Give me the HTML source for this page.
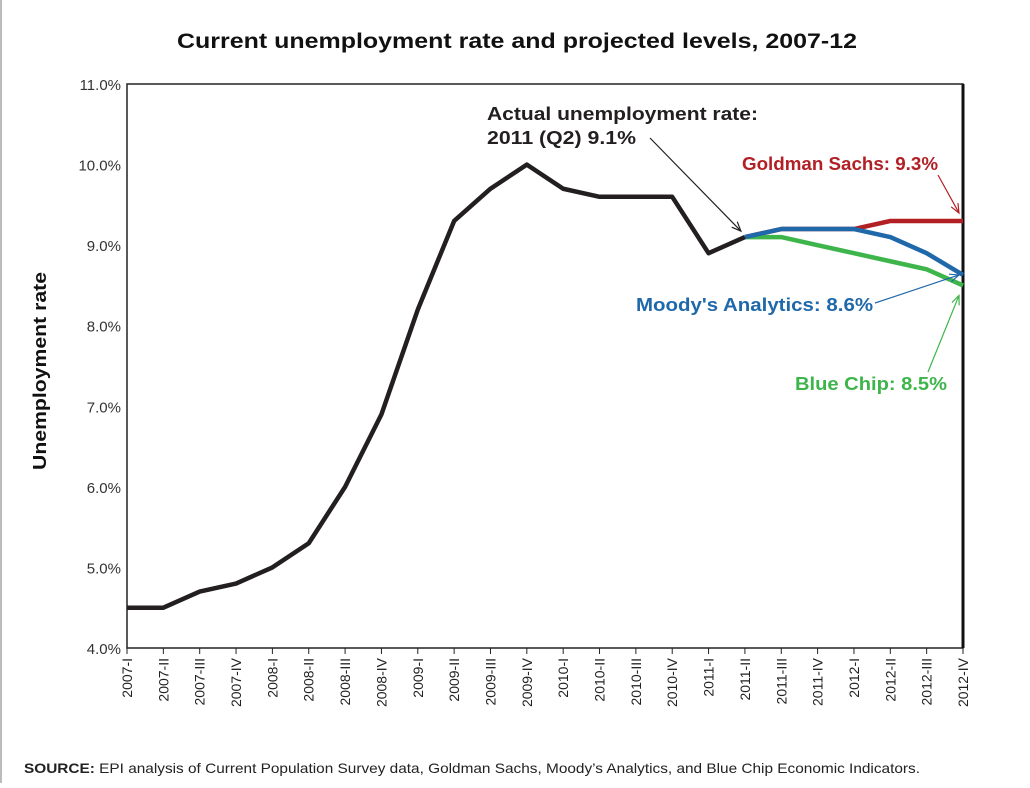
<!DOCTYPE html>
<html><head><meta charset="utf-8"><style>
body{margin:0;background:#fff;width:1030px;height:783px;overflow:hidden;font-family:"Liberation Sans",sans-serif}
svg text{font-family:"Liberation Sans",sans-serif}
</style></head><body>
<svg id="c" width="1030" height="783">
<line x1="1" y1="0" x2="1" y2="783" stroke="#bbb" stroke-width="2"/>
<text x="177" y="48" textLength="680" lengthAdjust="spacingAndGlyphs" font-size="21" font-weight="bold" fill="#111">Current unemployment rate and projected levels, 2007-12</text>
<text transform="translate(46,470) rotate(-90)" textLength="198" lengthAdjust="spacingAndGlyphs" font-size="18" font-weight="bold" fill="#111">Unemployment rate</text>
<text x="24" y="773" textLength="896" lengthAdjust="spacingAndGlyphs" font-size="14" fill="#222"><tspan font-weight="bold">SOURCE:</tspan> EPI analysis of Current Population Survey data, Goldman Sachs, Moody’s Analytics, and Blue Chip Economic Indicators.</text>
<g id="axes"></g><g id="marks"></g>
</svg>
<script>
const categories=["2007-I","2007-II","2007-III","2007-IV","2008-I","2008-II","2008-III","2008-IV","2009-I","2009-II","2009-III","2009-IV","2010-I","2010-II","2010-III","2010-IV","2011-I","2011-II","2011-III","2011-IV","2012-I","2012-II","2012-III","2012-IV"];
const actual=[4.5,4.5,4.7,4.8,5.0,5.3,6.0,6.9,8.2,9.3,9.7,10.0,9.7,9.6,9.6,9.6,8.9,9.1];
const goldman=[9.1,9.2,9.2,9.2,9.3,9.3,9.3];
const moodys=[9.1,9.2,9.2,9.2,9.1,8.9,8.63];
const blueChip=[9.1,9.1,9.0,8.9,8.8,8.7,8.5];
const yTicks=[4,5,6,7,8,9,10,11];
const projStart=17;
const NS="http://www.w3.org/2000/svg";
const L=127,R=963,T=84,B=648;
const x=i=>L+(R-L)*i/(categories.length-1);
const y=v=>B-(v-4)/7*(B-T);
const axes=document.getElementById('axes'),marks=document.getElementById('marks');
function mk(tag,at,parent){const e=document.createElementNS(NS,tag);for(const k in at)e.setAttribute(k,at[k]);parent.appendChild(e);return e;}
const frame=mk('rect',{x:L,y:T,width:R-L,height:B-T,fill:'none',stroke:'#222','stroke-width':1.5},axes);


const rl=mk('line',{x1:R,y1:T,x2:R,y2:B,stroke:'#111','stroke-width':3},axes);


yTicks.forEach(v=>{
 const t=mk('text',{x:L-6,y:y(v)+6,'text-anchor':'end','font-size':15,fill:'#333'},axes);
 t.textContent=v.toFixed(1)+'%';
 
 
});
categories.forEach((c,i)=>{
 const tk=mk('line',{x1:x(i),y1:B,x2:x(i),y2:B+6,stroke:'#222'},axes);
 
 
 const t=mk('text',{transform:`translate(${x(i)+5},${B+10}) rotate(-90)`,'text-anchor':'end','font-size':14,fill:'#222'},axes);
 t.textContent=c;
 
 
});
function line(arr,off,color,name){
 const p=arr.map((v,i)=>x(i+off)+','+y(v)).join(' ');
 const e=mk('polyline',{points:p,fill:'none',stroke:color,'stroke-width':4.5,'stroke-linejoin':'round'},marks);
 
 
}
line(goldman,projStart,'#b22025','goldman-sachs-line');
line(blueChip,projStart,'#3db54a','blue-chip-line');
line(moodys,projStart,'#1f69aa','moodys-line');
line(actual,0,'#231f20','actual-rate-line');
function ann(txts,lens,tx,ty,color,name,ax1,ay1,ax2,ay2){
 txts.forEach((s,k)=>{const t=mk('text',{x:tx,y:ty+k*24,'font-size':18,'font-weight':'bold',fill:color,textLength:lens[k],lengthAdjust:'spacingAndGlyphs'},marks);t.textContent=s;
 
 });
 const a=mk('line',{x1:ax1,y1:ay1,x2:ax2,y2:ay2,stroke:color,'stroke-width':1.2},marks);
 
 
 const ang=Math.atan2(ay2-ay1,ax2-ax1),h=10;
 const p=mk('polyline',{points:`${ax2-h*Math.cos(ang-0.4)},${ay2-h*Math.sin(ang-0.4)} ${ax2},${ay2} ${ax2-h*Math.cos(ang+0.4)},${ay2-h*Math.sin(ang+0.4)}`,fill:'none',stroke:color,'stroke-width':1.2},marks);
 
 
}
const lastA=actual[actual.length-1];
ann(['Actual unemployment rate:','2011 (Q2) '+lastA.toFixed(1)+'%'],[271,149],487,120,'#231f20','actual-annotation',650,138,x(projStart)-4,y(lastA)-6);
const n=categories.length-1;
ann(['Goldman Sachs: '+goldman[6].toFixed(1)+'%'],[196],742,170,'#b22025','goldman-annotation',938,175,x(n)-4,y(goldman[6])-8);
ann(["Moody's Analytics: "+moodys[6].toFixed(1)+'%'],[237],636,311,'#1f69aa','moodys-annotation',875,303,x(n)-4,y(moodys[6]));
ann(['Blue Chip: '+blueChip[6].toFixed(1)+'%'],[152],795,390,'#3db54a','blue-chip-annotation',928,372,x(n)-4,y(blueChip[6])+10);
</script>
</body></html>
